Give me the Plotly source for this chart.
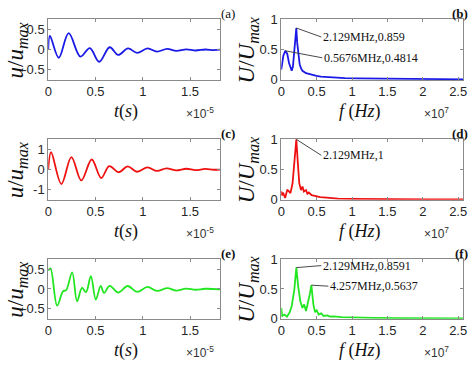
import plotly.graph_objects as go

W, H = 474, 366

# ---------------- data ----------------
# time axis in units of 1e-5 s
t_a = [0, 0.018, 0.111, 0.216, 0.34, 0.44, 0.539, 0.65, 0.74, 0.844, 0.94, 1.05, 1.15, 1.257, 1.355, 1.46, 1.56, 1.66, 1.75, 1.82]
u_a = [0.0, 0.34, -0.20, 0.41, -0.17, 0.04, -0.30, 0.06, -0.13, 0.03, -0.08, 0.03, -0.05, 0.02, -0.03, 0.01, -0.02, 0.005, -0.01, 0.0]

t_c = [0, 0.03, 0.139, 0.245, 0.35, 0.46, 0.56, 0.645, 0.747, 0.84, 0.94, 1.05, 1.15, 1.25, 1.355, 1.46, 1.56, 1.66, 1.75, 1.82]
u_c = [0.0, 0.86, -0.72, 0.62, -0.54, 0.50, -0.42, 0.17, -0.13, 0.16, -0.11, 0.11, -0.07, 0.06, -0.04, 0.04, -0.03, 0.03, -0.01, 0.0]

t_e = [0, 0.024, 0.094, 0.156, 0.19, 0.253, 0.305, 0.357, 0.40, 0.451, 0.503, 0.555, 0.59, 0.65, 0.74, 0.84, 0.94, 1.05, 1.15, 1.26, 1.354, 1.458, 1.56, 1.66, 1.82]
u_e = [0.46, 0.52, -0.42, -0.06, -0.03, 0.42, -0.31, 0.03, -0.08, 0.32, -0.27, 0.08, -0.10, 0.08, -0.09, 0.075, -0.075, 0.05, -0.05, 0.02, -0.04, 0.01, -0.02, 0.005, -0.01]

# frequency axis in units of 1e7 Hz
f_b = [0, 0.03, 0.0568, 0.085, 0.11, 0.135, 0.148, 0.165, 0.18, 0.195, 0.2129, 0.225, 0.24, 0.26, 0.28, 0.30, 0.35, 0.42, 0.5, 0.56, 0.65, 0.75, 0.9, 1.1, 1.4, 1.7, 2.0, 2.3, 2.57]
U_b = [0.17, 0.40, 0.4814, 0.43, 0.28, 0.17, 0.15, 0.22, 0.40, 0.68, 0.859, 0.62, 0.40, 0.26, 0.19, 0.15, 0.11, 0.086, 0.065, 0.054, 0.045, 0.038, 0.03, 0.025, 0.02, 0.015, 0.012, 0.01, 0.01]

f_d = [0, 0.012, 0.025, 0.04, 0.055, 0.07, 0.085, 0.1, 0.115, 0.13, 0.16, 0.19, 0.2129, 0.235, 0.255, 0.28, 0.30, 0.32, 0.35, 0.37, 0.39, 0.43, 0.46, 0.5, 0.55, 0.6, 0.7, 0.8, 1.0, 1.3, 1.7, 2.1, 2.57]
U_d = [0.14, 0.07, 0.12, 0.05, 0.03, 0.10, 0.16, 0.15, 0.12, 0.11, 0.27, 0.70, 1.0, 0.60, 0.27, 0.16, 0.22, 0.135, 0.16, 0.10, 0.12, 0.075, 0.065, 0.055, 0.045, 0.04, 0.03, 0.02, 0.015, 0.01, 0.008, 0.006, 0.005]

f_f = [0, 0.014, 0.046, 0.08, 0.116, 0.148, 0.185, 0.2129, 0.24, 0.27, 0.30, 0.324, 0.35, 0.38, 0.405, 0.4257, 0.454, 0.477, 0.50, 0.53, 0.565, 0.60, 0.65, 0.69, 0.74, 0.85, 1.0, 1.3, 1.7, 2.1, 2.57]
U_f = [0.18, 0.045, 0.07, 0.033, 0.10, 0.21, 0.49, 0.8591, 0.54, 0.29, 0.18, 0.24, 0.13, 0.27, 0.42, 0.5637, 0.24, 0.11, 0.14, 0.07, 0.09, 0.045, 0.055, 0.035, 0.04, 0.025, 0.02, 0.012, 0.01, 0.008, 0.006]

t_ticks = [0, 0.5, 1, 1.5]
t_ticktext = ["0", "0.5", "1", "1.5"]
f_ticks = [0, 0.5, 1, 1.5, 2, 2.5]
f_ticktext = ["0", "0.5", "1", "1.5", "2", "2.5"]
y_ticks_half = [-0.5, 0, 0.5]
y_ticktext_half = ["-0.5", "0", "0.5"]
y_ticks_one = [-1, 0, 1]
y_ticktext_one = ["-1", "0", "1"]
Y_ticks = [0, 0.5, 1]
Y_ticktext = ["0", "0.5", "1"]

peaks_b = [(0.2129, 0.859, "2.129MHz,0.859"), (0.0568, 0.4814, "0.5676MHz,0.4814")]
peaks_d = [(0.2129, 1.0, "2.129MHz,1")]
peaks_f = [(0.2129, 0.8591, "2.129MHz,0.8591"), (0.4257, 0.5637, "4.257MHz,0.5637")]

BLUE = "#1a1ae6"
RED = "#ee1111"
GREEN = "#22e622"

# ---------------- layout helpers ----------------
cols = {"L": (45, 220), "R": (282, 467)}
rows = [(13, 76), (138, 201), (263, 325)]


def hx(x):
    return x / W


def vy(y):
    return 1 - y / H


fig = go.Figure()

panels = [
    ("a", 0, "L", t_a, u_a, BLUE, [-0.75, 0.75], y_ticks_half, y_ticktext_half, [0, 1.82], t_ticks, t_ticktext, "spline"),
    ("b", 0, "R", f_b, U_b, BLUE, [0, 1], Y_ticks, Y_ticktext, [0, 2.57], f_ticks, f_ticktext, "linear"),
    ("c", 1, "L", t_c, u_c, RED, [-1.5, 1.5], y_ticks_one, y_ticktext_one, [0, 1.82], t_ticks, t_ticktext, "spline"),
    ("d", 1, "R", f_d, U_d, RED, [0, 1], Y_ticks, Y_ticktext, [0, 2.57], f_ticks, f_ticktext, "linear"),
    ("e", 2, "L", t_e, u_e, GREEN, [-0.75, 0.75], y_ticks_half, y_ticktext_half, [0, 1.82], t_ticks, t_ticktext, "spline"),
    ("f", 2, "R", f_f, U_f, GREEN, [0, 1], Y_ticks, Y_ticktext, [0, 2.57], f_ticks, f_ticktext, "linear"),
]

axis_common = dict(
    showline=True, mirror="ticks", ticks="inside", ticklen=3, tickwidth=1,
    linecolor="#8a8a8a", linewidth=1, tickcolor="#8a8a8a",
    showgrid=False, zeroline=False, ticklabeloverflow="allow",
    tickfont=dict(family="Arial, Liberation Sans, sans-serif", size=13, color="#262626"),
)

annotations = []
serif = "Times New Roman, Liberation Serif, serif"

for i, (name, r, c, xs, ys, color, yr, ytv, ytt, xr, xtv, xtt, shape) in enumerate(panels):
    k = "" if i == 0 else str(i + 1)
    x0, x1 = cols[c]
    y0, y1 = rows[r]
    fig.add_trace(go.Scatter(
        x=xs, y=ys, mode="lines",
        line=dict(color=color, width=1.8, shape=shape),
        xaxis="x" + k, yaxis="y" + k, showlegend=False, hoverinfo="skip",
    ))
    fig.layout["xaxis" + k] = dict(
        axis_common, domain=[hx(x0), hx(x1)], range=xr, anchor="y" + k,
        tickvals=xtv, ticktext=xtt,
    )
    fig.layout["yaxis" + k] = dict(
        axis_common, domain=[vy(y1), vy(y0)], range=yr, anchor="x" + k,
        tickvals=ytv, ticktext=ytt,
    )
    if c == "L":
        xt = "<i>t</i>(<i>s</i>)"
        yt = "<i>u</i>/<i>u</i><sub><i>max</i></sub>"
        ylab_x = 13
        exp_txt = "×10<sup>-5</sup>"
        exp_x = 199
        xlab_x = 124
    else:
        xt = "<i>f</i> (<i>Hz</i>)"
        yt = "<i>U</i>/<i>U</i><sub><i>max</i></sub>"
        ylab_x = 248
        exp_txt = "×10<sup>7</sup>"
        exp_x = 440
        xlab_x = 362
    annotations.append(dict(
        x=hx(xlab_x), y=vy(y1 + 33), xref="paper", yref="paper", text=xt,
        showarrow=False, xanchor="center", yanchor="middle",
        font=dict(family=serif, size=18, color="#111"),
    ))
    annotations.append(dict(
        x=hx(ylab_x), y=vy((y0 + y1) / 2), xref="paper", yref="paper", text=yt,
        showarrow=False, textangle=-90, xanchor="center", yanchor="middle",
        font=dict(family=serif, size=23, color="#111"),
    ))
    annotations.append(dict(
        x=hx(exp_x), y=vy(y1 + 35), xref="paper", yref="paper", text=exp_txt,
        showarrow=False, xanchor="center", yanchor="middle",
        font=dict(family="Arial, Liberation Sans, sans-serif", size=12, color="#333"),
    ))
    if c == "L":
        annotations.append(dict(
            x=hx(228), y=vy(y0 - 6), xref="paper", yref="paper",
            text=("(%s)" % name) if name == "a" else "<b>(%s)</b>" % name,
            showarrow=False, xanchor="center", yanchor="middle",
            font=dict(family=serif, size=13, color="#111"),
        ))
    else:
        annotations.append(dict(
            x=1.0, y=vy(y0 - 6), xref="paper", yref="paper",
            text="<b>(%s)</b>" % name,
            showarrow=False, xanchor="right", yanchor="middle",
            font=dict(family=serif, size=13, color="#111"),
        ))

callouts = [
    ("2", peaks_b, [(25, 9), (37, 7)]),
    ("4", peaks_d, [(25, 16)]),
    ("6", peaks_f, [(25, -2), (17, 1)]),
]
for k, peaks, offs in callouts:
    for (fx, fv, txt), (ax, ay) in zip(peaks, offs):
        annotations.append(dict(
            x=fx, y=fv, xref="x" + k, yref="y" + k, text=txt,
            showarrow=True, arrowhead=0, arrowwidth=0.9, arrowcolor="#333",
            ax=ax, ay=ay, xanchor="left", yanchor="middle",
            font=dict(family=serif, size=12, color="#111"),
        ))

fig.update_layout(
    width=W, height=H,
    margin=dict(l=0, r=0, t=0, b=0),
    paper_bgcolor="white", plot_bgcolor="white",
    annotations=annotations,
)

fig.write_html(
    "out.html",
    config={"displayModeBar": False},
    post_script=(
        "document.body.style.margin='0';"
        "var d=document.getElementById('{plot_id}');"
        "d.style.position='fixed';d.style.left='0px';d.style.top='0px';"
    ),
)
